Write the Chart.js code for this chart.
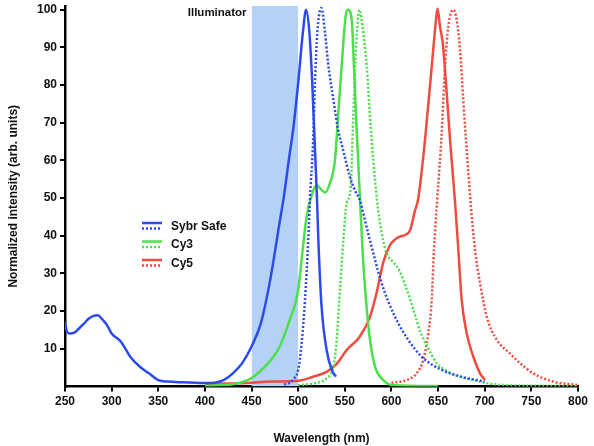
<!DOCTYPE html>
<html>
<head>
<meta charset="utf-8">
<script src="https://cdn.jsdelivr.net/npm/chart.js@4.4.1/dist/chart.umd.min.js"></script>
<style>
  html, body { margin: 0; padding: 0; background: #fff; }
  #wrap { width: 594px; height: 446px; }
</style>
</head>
<body>
<div id="wrap"><canvas id="specChart"></canvas></div>
<script>
// wavelengths (nm) and normalized intensities
const sybrExWl  = [250, 252, 255, 260, 265, 270, 275, 280, 285, 290, 295, 300, 310, 320, 330, 340, 350, 360, 375, 390, 400, 410, 420, 430, 440, 450, 460, 470, 480, 485, 490, 495, 500, 505, 508.5, 512, 515, 518, 520, 521.6, 525, 530.5, 536, 540.5];
const sybrExVal = [17.2, 14.6, 14.1, 14.3, 15.4, 16.6, 17.9, 18.7, 18.9, 17.8, 16.3, 14.1, 11.9, 7.9, 5.3, 3.5, 1.7, 1.3, 1.1, 1.0, 0.9, 1.0, 1.7, 3.5, 6.2, 10.6, 16.8, 28.3, 43.4, 51, 60.2, 69, 80.6, 93.9, 100, 94, 81, 63, 51, 39, 21.5, 9.7, 4.4, 2.6];

const sybrEmWl  = [485, 491, 495, 500, 503.7, 507.3, 510.8, 512.7, 515.6, 518, 520.5, 524.8, 528.8, 532, 537.8, 543, 549, 555, 561, 566, 575, 589.5, 603.8, 618, 632.4, 653.9, 675, 700];
const sybrEmVal = [0.5, 1.0, 2.0, 4.4, 11.5, 23, 38.9, 50.4, 62.8, 80.6, 93.9, 100.5, 93.9, 86, 76, 68, 62, 56, 52, 49.5, 40.7, 27.4, 18.5, 12.4, 7.9, 4.4, 2.6, 1.3];

const cy3ExWl  = [400, 430, 450, 460, 470, 480, 490, 500, 504, 509, 514.5, 519.8, 525, 528.8, 534, 539.5, 543, 546.6, 551.3, 553.5, 557.4, 559.8, 562, 563.8, 566.3, 569, 572.7, 577, 582.4, 591.3, 600, 650];
const cy3ExVal = [0.2, 0.6, 2.2, 4.2, 6.8, 10.5, 17, 25.6, 34.5, 45, 50.8, 53.5, 52.2, 51.5, 54, 60.2, 72.6, 85, 99, 100, 97.3, 85, 71.7, 62.8, 49.5, 36.3, 23, 12.4, 5.3, 1.7, 0.4, 0.1];

const cy3EmWl  = [500, 520, 530.6, 537.7, 541.3, 544.8, 548.4, 552, 556, 559, 562.3, 565.6, 569.8, 573.5, 577, 580.5, 584.5, 589.5, 595.5, 602, 609, 616, 624, 631, 638.5, 648.5, 657.4, 666.3, 678.9, 688, 703.9, 713, 750, 800];
const cy3EmVal = [0.3, 1.0, 2.2, 5.3, 12.4, 25.6, 38.9, 48.7, 52, 71, 91, 100, 93.9, 85, 71.7, 60.2, 49.5, 40.7, 35, 33, 30.5, 26, 20, 14.5, 10.6, 6.2, 4.4, 3.2, 2.2, 1.7, 0.8, 0.5, 0.2, 0.1];

const cy5ExWl  = [400, 437.6, 473.3, 500, 516, 530.5, 541.3, 552, 566, 577, 584, 591.3, 598.4, 603.8, 609, 614.5, 620, 625, 628.8, 636, 643.2, 648.5, 649.5, 652, 655, 659.2, 662.8, 668, 671.7, 675.3, 680.7, 687.8, 695, 700.3];
const cy5ExVal = [0.7, 0.85, 1.3, 1.5, 2.6, 3.9, 6.0, 9.7, 13.2, 18.5, 24.8, 33, 37.5, 39, 39.8, 40.2, 41.5, 46.5, 50, 65.5, 85, 99, 100.3, 95.6, 91.2, 78, 65.5, 49.5, 36.3, 23, 14.1, 7.9, 3.5, 1.7];

const cy5EmWl  = [600, 616.3, 627, 634, 639.5, 643.2, 645.6, 649, 653.9, 657.4, 661, 666.3, 670, 673.5, 677, 680.7, 684.6, 689.6, 695, 702.2, 712.9, 727, 737.8, 752, 773.5, 800];
const cy5EmVal = [1.0, 1.7, 3.5, 7, 14.1, 23, 36.3, 49.5, 67.3, 85, 95.6, 100, 97.3, 89.4, 76.1, 62.8, 49.5, 36.3, 27.4, 18.5, 12.4, 8.8, 6.2, 3.5, 1.3, 0.4];

// illuminator band (nm) and its height
const bandWl  = [450, 500];
const bandVal = [101, 101];

const dyes = ["Sybr Safe", "Cy3", "Cy5"];
const yTicks = [10, 20, 30, 40, 50, 60, 70, 80, 90, 100];

const BLUE = "#2c4bee", GREEN = "#4cdf4c", RED = "#f04b3e", BAND = "#b3d2f5";
const FONT = "'Liberation Sans', Arial, sans-serif";

const pts = (xs, ys) => xs.map((x, i) => ({x, y: ys[i]}));

function series(label, xs, ys, color, dotted) {
    return {
        label,
        data: pts(xs, ys),
        borderColor: color,
        borderWidth: 2.5,
        borderDash: dotted ? [2, 2] : [],
        pointRadius: 0,
        cubicInterpolationMode: 'monotone',
        fill: false,
        order: 0
    };
}

const annotations = {
    id: 'annotations',
    afterDatasetsDraw(chart) {
        const ctx = chart.ctx;
        const xs = chart.scales.x;
        ctx.save();
        ctx.font = "bold 11.5px " + FONT;
        ctx.fillStyle = "#111";
        ctx.textAlign = "right";
        ctx.textBaseline = "middle";
        ctx.fillText("Illuminator", xs.getPixelForValue(bandWl[0]) - 5, 12.5);

        // legend: solid (excitation) over dotted (emission)
        const colors = [BLUE, GREEN, RED];
        const rows = [223, 241.5, 260];
        ctx.font = "bold 12px " + FONT;
        ctx.textAlign = "left";
        dyes.forEach((name, i) => {
            const y = rows[i];
            ctx.strokeStyle = colors[i];
            ctx.lineWidth = 2.5;
            ctx.setLineDash([]);
            ctx.beginPath(); ctx.moveTo(142, y); ctx.lineTo(162, y); ctx.stroke();
            ctx.setLineDash([2, 2]);
            ctx.beginPath(); ctx.moveTo(142, y + 5.5); ctx.lineTo(162, y + 5.5); ctx.stroke();
            ctx.fillStyle = "#111";
            ctx.fillText(name, 171, y + 3.5);
        });
        ctx.restore();
    }
};

const noPad = s => { s.paddingLeft = s.paddingRight = s.paddingTop = s.paddingBottom = 0; };

const ctx = document.getElementById("specChart").getContext("2d");
new Chart(ctx, {
    type: 'line',
    data: {
        datasets: [
            series("Sybr Safe", sybrExWl, sybrExVal, BLUE, false),
            series("Sybr Safe em", sybrEmWl, sybrEmVal, BLUE, true),
            series("Cy3", cy3ExWl, cy3ExVal, GREEN, false),
            series("Cy3 em", cy3EmWl, cy3EmVal, GREEN, true),
            series("Cy5", cy5ExWl, cy5ExVal, RED, false),
            series("Cy5 em", cy5EmWl, cy5EmVal, RED, true),
            {
                label: "Illuminator",
                data: pts(bandWl, bandVal),
                borderWidth: 0,
                pointRadius: 0,
                backgroundColor: BAND,
                fill: 'origin',
                order: 10
            }
        ]
    },
    options: {
        responsive: true,
        maintainAspectRatio: false,
        animation: false,
        layout: { padding: { left: 0, right: 16, top: 6, bottom: 0 } },
        plugins: {
            legend: { display: false },
            tooltip: { enabled: false }
        },
        scales: {
            x: {
                type: 'linear',
                min: 250,
                max: 800,
                z: 1,
                ticks: { stepSize: 50, color: "#111", padding: 3, maxRotation: 0,
                         font: { family: FONT, weight: 'bold', size: 12 } },
                grid: { drawOnChartArea: false, color: "#000", lineWidth: 2, tickLength: 5 },
                border: { color: "#000", width: 2.5 },
                title: { display: true, text: 'Wavelength (nm)', color: "#111",
                         padding: { top: 0, bottom: 0 },
                         font: { family: FONT, weight: 'bold', size: 12 } },
                afterFit: s => { s.height = 59.5; noPad(s); }
            },
            y: {
                min: 0,
                max: 101,
                z: 1,
                afterBuildTicks: s => { s.ticks = yTicks.map(v => ({value: v})); },
                ticks: { color: "#111", padding: 3,
                         font: { family: FONT, weight: 'bold', size: 12 } },
                grid: { drawOnChartArea: false, color: "#000", lineWidth: 2, tickLength: 5 },
                border: { color: "#000", width: 2.5 },
                title: { display: true, text: 'Normalized intensity (arb. units)', color: "#111",
                         padding: { top: 6, bottom: 0 },
                         font: { family: FONT, weight: 'bold', size: 12 } },
                afterFit: s => { s.width = 65; noPad(s); }
            }
        }
    },
    plugins: [annotations]
});
</script>
</body>
</html>
